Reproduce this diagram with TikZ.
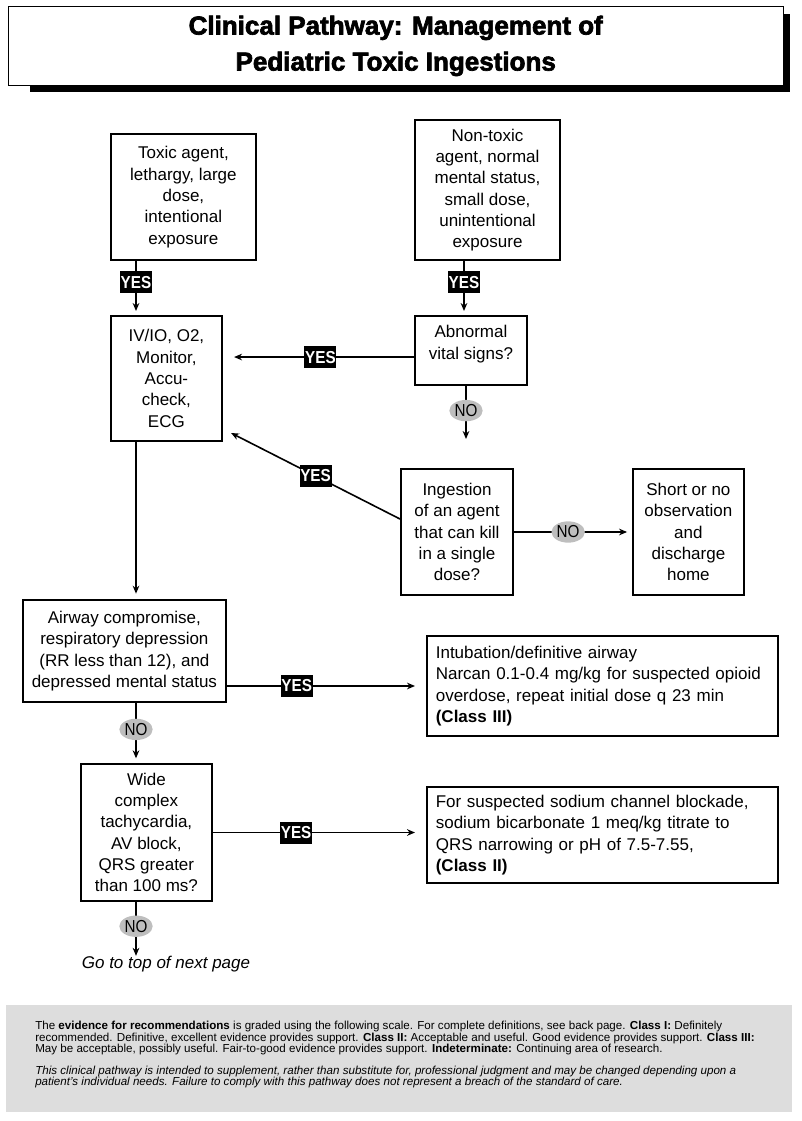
\documentclass[tikz,border=0pt]{standalone}
\usepackage{fontspec}
\setmainfont{Liberation Sans}
\newfontfamily\tagfont{Liberation Sans}[FakeStretch=0.88]
\newfontfamily\headfont{Liberation Sans}[FakeBold=2.6]
\usetikzlibrary{arrows.meta,shapes.geometric}
\definecolor{NoClr}{RGB}{190,190,190}
\definecolor{NoteClr}{RGB}{221,221,221}

\begin{document}
\begin{tikzpicture}[x=0.75pt,y=-0.75pt,
  box/.style={draw,line width=1.5pt,inner sep=0pt,align=center,font=\fontsize{12.75}{16}\selectfont},
  wbox/.style={box,align=left,text width=250pt,minimum width=263.25pt},
  flow/.style={line width=1.2pt,-{Stealth[length=6pt,width=5pt]}},
  yes/.style={fill=black,text=white,inner sep=0pt,minimum width=24pt,minimum height=16.5pt,font=\tagfont\bfseries\fontsize{13}{13}\selectfont},
  no/.style={ellipse,fill=NoClr,inner sep=0pt,minimum width=25pt,minimum height=16pt,font=\tagfont\fontsize{13}{13}\selectfont}]
\useasboundingbox (0,0) rectangle (802,1121);

% Title with its shadow.
\fill (30,14) rectangle (790,92);
\node[draw,line width=0.8pt,fill=white,minimum width=581pt,minimum height=59.8pt,align=center,
  font=\headfont\bfseries\fontsize{19.5}{27}\selectfont] (title) at (395.7,45.9)
  {Clinical Pathway: Management of\\ Pediatric Toxic Ingestions};

% Boxes of the pathway.
\node[box,minimum width=109pt,minimum height=94.5pt] (toxic) at (183.4,197)
  {Toxic agent,\\ lethargy, large\\ dose,\\ intentional\\ exposure};
\node[box,minimum width=108.75pt,minimum height=105pt] (nontox) at (487.5,190)
  {Non-toxic\\ agent, normal\\ mental status,\\ small dose,\\ unintentional\\ exposure};
\node[box,minimum width=83.5pt,minimum height=93.75pt] (iv) at (166.4,378.5)
  {IV/IO, O2,\\ Monitor,\\ Accu-\\ check,\\ ECG};
\node[box,minimum width=84pt,minimum height=51.75pt] (abn) at (471,350.5)
  {Abnormal\\ vital signs?\\[-4pt]};
\node[box,minimum width=84pt,minimum height=94.5pt] (ingest) at (457,532)
  {Ingestion\\ of an agent\\ that can kill\\ in a single\\ dose?};
\node[box,minimum width=83.5pt,minimum height=94.5pt] (short) at (688.4,532)
  {Short or no\\ observation\\ and\\ discharge\\ home};
\node[box,minimum width=152.5pt,minimum height=76.5pt] (airway) at (124.4,651)
  {Airway compromise,\\ respiratory depression\\ (RR less than 12), and\\ depressed mental status};
\node[wbox,minimum height=75pt] (intub) at (602.5,686)
  {Intubation/definitive airway\\ Narcan 0.1-0.4 mg/kg for suspected opioid\\ overdose, repeat initial dose q 23 min\\ \textbf{(Class III)}};
\node[box,minimum width=98.5pt,minimum height=102.75pt] (wide) at (146.4,832.5)
  {Wide\\ complex\\ tachycardia,\\ AV block,\\ QRS greater\\ than 100 ms?};
\node[wbox,minimum height=72pt] (sodium) at (602.5,835)
  {For suspected sodium channel blockade,\\ sodium bicarbonate 1 meq/kg titrate to\\ QRS narrowing or pH of 7.5-7.55,\\ \textbf{(Class II)}};
\node[inner sep=0pt,font=\itshape\fontsize{12.75}{16}\selectfont] (goto) at (166,964)
  {Go to top of next page};

% Lines that the vertical arrows follow.
\coordinate (lspine) at (136,0);
\coordinate (rspine) at (464,0);

% Connectors.
\draw[flow,shorten >=3pt] (toxic.south -| lspine) -- (iv.north -| lspine) node[yes,pos=0.39] (yesA) {YES};
\draw[flow,shorten >=3pt] (nontox.south -| rspine) -- (abn.north -| rspine) node[yes,pos=0.39] (yesB) {YES};
\draw[flow,shorten >=8.25pt] ([yshift=-4.9pt]abn.west) -- ([yshift=-4.9pt]abn.west -| iv.east) node[yes,pos=0.49] (yesC) {YES};
\draw[flow,shorten >=21.75pt] ([xshift=-3.75pt]abn.south) -- ([xshift=-3.75pt]abn.south |- ingest.north) node[no,pos=0.3] (noA) {NO};
\draw[flow] ([yshift=9.75pt]ingest.west) -- ([xshift=6pt,yshift=6.75pt]iv.south east) node[yes,pos=0.5] (yesD) {YES};
\draw[flow,shorten >=3.5pt] (ingest.east) -- (short.west) node[no,pos=0.46] (noB) {NO};
\draw[flow,shorten >=4pt] (iv.south -| lspine) -- (airway.north -| lspine);
\draw[flow,shorten >=8.25pt] (airway.east |- intub.west) -- (intub.west) node[yes,pos=0.35] (yesE) {YES};
\draw[flow,shorten >=3.5pt] (airway.south -| lspine) -- (wide.north -| lspine) node[no,pos=0.44] (noC) {NO};
\draw[flow,shorten >=8.25pt] (wide.east) -- (wide.east -| sodium.west) node[yes,pos=0.39] (yesF) {YES};
\draw[flow] (wide.south -| lspine) -- (goto.north -| lspine) node[no,pos=0.45] (noD) {NO};

% Note on the evidence.
\node[fill=NoteClr,minimum width=589.5pt,minimum height=80pt,inner sep=0pt] (note) at (399,1058.3) {};
\node[anchor=north west,inner sep=0pt,align=left,font=\fontsize{8.7}{8.9}\selectfont] (evidence) at (35,1020.5)
  {The \textbf{evidence for recommendations} is graded using the following scale. For complete definitions, see back page. \textbf{Class I:} Definitely\\
   recommended. Definitive, excellent evidence provides support. \textbf{Class II:} Acceptable and useful. Good evidence provides support. \textbf{Class III:}\\
   May be acceptable, possibly useful. Fair-to-good evidence provides support. \textbf{Indeterminate:} Continuing area of research.\\[7pt]
   \textit{This clinical pathway is intended to supplement, rather than substitute for, professional judgment and may be changed depending upon a}\\
   \textit{patient's individual needs. Failure to comply with this pathway does not represent a breach of the standard of care.}};

\end{tikzpicture}
\end{document}
